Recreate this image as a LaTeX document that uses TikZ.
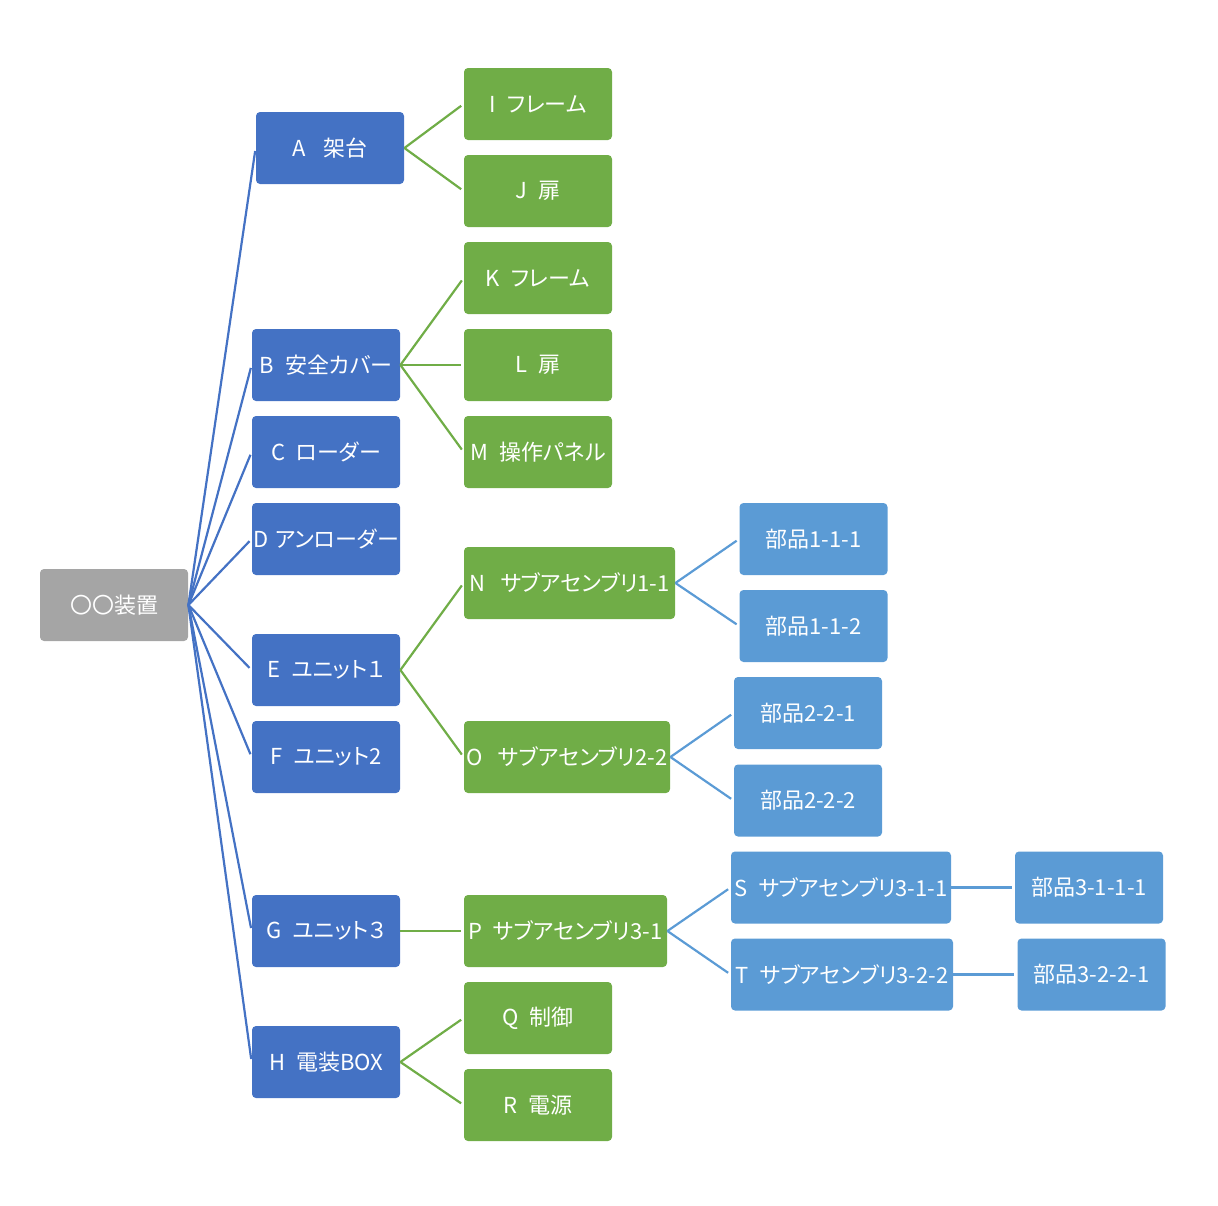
\documentclass[tikz,border=0pt]{standalone}
\usepackage{fontspec}
\setmainfont[CharacterWidth=AlternateProportional]{Noto Sans CJK JP}
\definecolor{rootgray}{HTML}{A5A5A5}
\definecolor{unitblue}{HTML}{4472C4}
\definecolor{subgreen}{HTML}{70AD47}
\definecolor{partblue}{HTML}{5B9BD5}

\begin{document}
\begin{tikzpicture}[x=0.5pt, y=-0.5pt,
  box/.style={rectangle, rounded corners=2pt, text=white,
    inner xsep=0pt, inner ysep=1pt,
    minimum height=36pt, minimum width=74pt,
    font=\fontsize{11pt}{13pt}\selectfont},
  link/.style={line width=1.1pt, shorten >=1.5pt}]

\useasboundingbox (0,0) rectangle (1218,1205);

\node[box, fill=rootgray] (root) at (114,605) {〇〇装置};

\begin{scope}[every node/.style={box, fill=unitblue}]
  \node (blockA) at (330,148) {A\hspace{0.8em}架台};
  \node (blockB) at (326,365) {B\enspace 安全カバー};
  \node (blockC) at (326,452) {C\enspace ローダー};
  \node (blockD) at (326,539) {D\hspace{0.3em}アンローダー};
  \node (blockE) at (326,670) {E\enspace ユニット１};
  \node (blockF) at (326,757) {F\enspace ユニット2};
  \node (blockG) at (326,931) {G\enspace ユニット３};
  \node (blockH) at (326,1062) {H\enspace 電装BOX};
\end{scope}

\begin{scope}[every node/.style={box, fill=subgreen}]
  \node (blockI) at (538,104) {I\enspace フレーム};
  \node (blockJ) at (538,191) {J\enspace 扉};
  \node (blockK) at (538,278) {K\enspace フレーム};
  \node (blockL) at (538,365) {L\enspace 扉};
  \node (blockM) at (538,452) {M\enspace 操作パネル};
  \node[minimum width=105.5pt] (blockN) at (569.5,583) {N\hspace{0.7em}サブアセンブリ1-1};
  \node[minimum width=103pt] (blockO) at (567,757) {O\hspace{0.7em}サブアセンブリ2-2};
  \node[minimum width=101.5pt] (blockP) at (565.5,931) {P\enspace サブアセンブリ3-1};
  \node (blockQ) at (538,1018) {Q\enspace 制御};
  \node (blockR) at (538,1105) {R\enspace 電源};
\end{scope}

\begin{scope}[every node/.style={box, fill=partblue}]
  \node (part111) at (813.5,539) {部品1-1-1};
  \node (part112) at (813.5,626) {部品1-1-2};
  \node (part221) at (808,713) {部品2-2-1};
  \node (part222) at (808,800.5) {部品2-2-2};
  \node[minimum width=110pt] (blockS) at (841,887.5) {S\enspace サブアセンブリ3-1-1};
  \node[minimum width=111pt] (blockT) at (842,974.5) {T\enspace サブアセンブリ3-2-2};
  \node (part3111) at (1089,887.5) {部品3-1-1-1};
  \node (part3221) at (1091.5,974.5) {部品3-2-2-1};
\end{scope}

\path[link, unitblue] (root.east) edge (blockA.west);
\path[link, unitblue] (root.east) edge (blockB.west);
\path[link, unitblue] (root.east) edge (blockC.west);
\path[link, unitblue] (root.east) edge (blockD.west);
\path[link, unitblue] (root.east) edge (blockE.west);
\path[link, unitblue] (root.east) edge (blockF.west);
\path[link, unitblue] (root.east) edge (blockG.west);
\path[link, unitblue] (root.east) edge (blockH.west);

\path[link, subgreen] (blockA.east) edge (blockI.west);
\path[link, subgreen] (blockA.east) edge (blockJ.west);
\path[link, subgreen] (blockB.east) edge (blockK.west);
\path[link, subgreen] (blockB.east) edge (blockL.west);
\path[link, subgreen] (blockB.east) edge (blockM.west);
\path[link, subgreen] (blockE.east) edge (blockN.west);
\path[link, subgreen] (blockE.east) edge (blockO.west);
\path[link, subgreen] (blockG.east) edge (blockP.west);
\path[link, subgreen] (blockH.east) edge (blockQ.west);
\path[link, subgreen] (blockH.east) edge (blockR.west);

\path[link, partblue] (blockN.east) edge (part111.west);
\path[link, partblue] (blockN.east) edge (part112.west);
\path[link, partblue] (blockO.east) edge (part221.west);
\path[link, partblue] (blockO.east) edge (part222.west);
\path[link, partblue] (blockP.east) edge (blockS.west);
\path[link, partblue] (blockP.east) edge (blockT.west);
\path[link, partblue] (blockS.east) edge (part3111.west);
\path[link, partblue] (blockT.east) edge (part3221.west);

\end{tikzpicture}
\end{document}
